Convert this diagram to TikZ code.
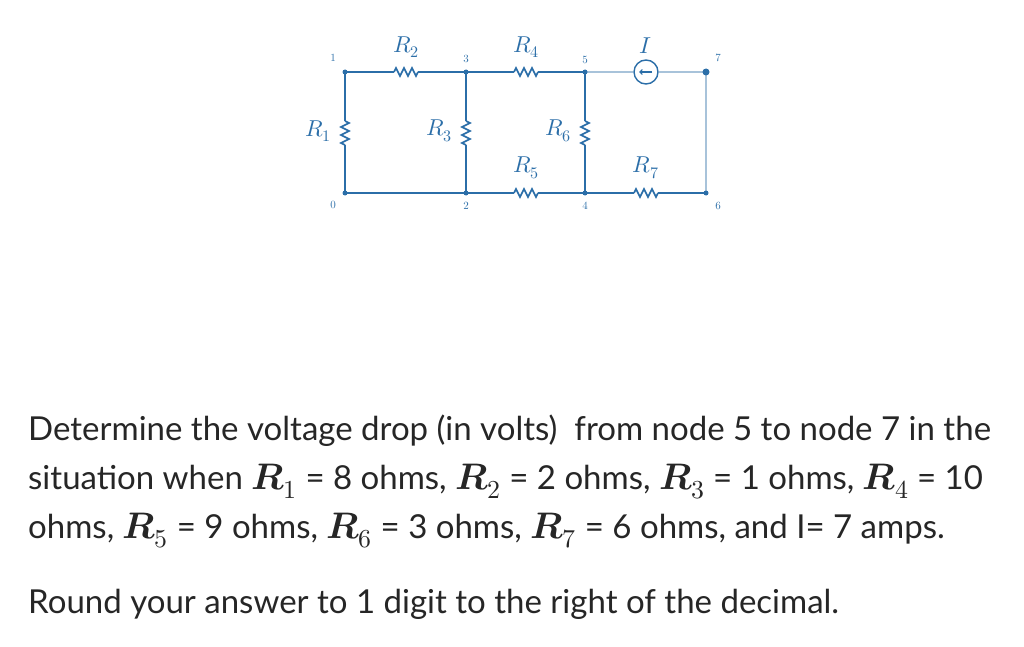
\documentclass[tikz,border=0pt]{standalone}
\usetikzlibrary{arrows.meta}
\usepackage{fontspec}
\setmainfont{Lato}
\newfontfamily\lmfont{Latin Modern Roman}
\usepackage{unicode-math}
\setmathfont{Latin Modern Math}
\newcommand{\BR}[1]{\scalebox{1.12}{$\symbfit{R}_{#1}$}}
\begin{document}
\begin{tikzpicture}[x=1pt,y=-1pt,
  wire/.style={draw=cb,line width=1.6pt},
  lwire/.style={draw=cl,line width=1.2pt},
  dot/.style={circle,fill=cb,inner sep=0pt,minimum size=5pt},
  num/.style={text=cb,font=\fontsize{11}{11}\selectfont\lmfont},
  lab/.style={text=cb,font=\fontsize{23}{23}\selectfont},
  body/.style={anchor=base west,inner sep=0pt,text=black!85,font=\fontsize{33}{36}\selectfont},
  hres/.pic={\draw[cb,line width=1.6pt] (-12,0)--(-10,-4)--(-6,4)--(-2,-4)--(2,4)--(6,-4)--(10,4)--(12,0);},
  vres/.pic={\draw[cb,line width=1.6pt] (0,-12)--(4,-10)--(-4,-6)--(4,-2)--(-4,2)--(4,6)--(-4,10)--(0,12);}
]
\definecolor{cb}{HTML}{2B6EA8}
\definecolor{cl}{HTML}{A8C3DA}
\useasboundingbox (0,0) rectangle (1024,647);
\coordinate (n1) at (345,72); \coordinate (n3) at (466,72); \coordinate (n5) at (585,72); \coordinate (n7) at (706,72);
\coordinate (n0) at (345,193); \coordinate (n2) at (466,193); \coordinate (n4) at (585,193); \coordinate (n6) at (706,193);
% light branch
\node[circle,draw=cb,line width=1.4pt,fill=white,minimum size=24pt,inner sep=0pt] (src) at (646,72) {};
\draw[lwire] (n5)--(src.west);
\draw[lwire] (src.east)--(n7)--(n6);
\draw[cb,line width=1.1pt,-{Straight Barb[length=2.5pt]}] (652,72)--(639,72);
% resistors
\pic at (406,72) {hres}; \pic at (526,72) {hres}; \pic at (526,193) {hres}; \pic at (646,193) {hres};
\pic at (345,133) {vres}; \pic at (466,133) {vres}; \pic at (585,133) {vres};
\draw[wire] (n1)--(394,72) (418,72)--(n3)--(514,72) (538,72)--(n5);
\draw[wire] (n0)--(n2)--(514,193) (538,193)--(n4)--(634,193) (658,193)--(n6);
\draw[wire] (n1)--(345,121) (345,145)--(n0);
\draw[wire] (n3)--(466,121) (466,145)--(n2);
\draw[wire] (n5)--(585,121) (585,145)--(n4);
\foreach \n in {n1,n3,n5,n0,n2,n4,n6} \node[dot] at (\n) {};
\node[dot,minimum size=7pt] at (n7) {};
% labels
\node[num] at (333,58) {1}; \node[num] at (466,59) {3}; \node[num] at (585,60) {5}; \node[num] at (718,58) {7};
\node[num] at (333,205) {0}; \node[num] at (466,206) {2}; \node[num] at (585,206) {4}; \node[num] at (718,206) {6};
\node[lab] at (406,47) {$R_2$}; \node[lab] at (526,47) {$R_4$}; \node[lab] at (646,46) {$I$};
\node[lab] at (318,131) {$R_1$}; \node[lab] at (439,131) {$R_3$}; \node[lab] at (558,131) {$R_6$};
\node[lab] at (526,168) {$R_5$}; \node[lab] at (646,168) {$R_7$};
% text
\node[body] at (28,440) {Determine the voltage drop (in volts)\ \ from node 5 to node 7 in the};
\node[body] at (28,489) {situation when \BR1 = 8 ohms, \BR2 = 2 ohms, \BR3 = 1 ohms, \BR4 = 10};
\node[body] at (28,538) {ohms, \BR5 = 9 ohms, \BR6 = 3 ohms, \BR7 = 6 ohms, and I= 7 amps.};
\node[body] at (28,613) {Round your answer to 1 digit to the right of the decimal.};
\end{tikzpicture}
\end{document}
